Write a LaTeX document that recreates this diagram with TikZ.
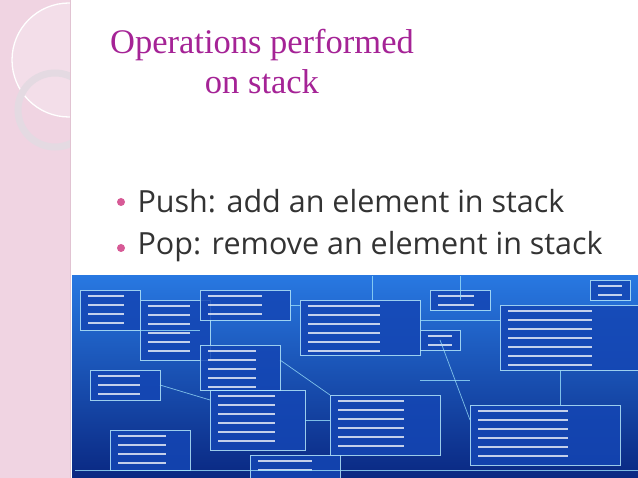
\documentclass[tikz,border=0pt]{standalone}
\usepackage{fontspec}
\setmainfont{Liberation Serif}
\setsansfont{Open Sans}
\definecolor{stripc}{RGB}{240,212,226}
\definecolor{ringc}{RGB}{228,218,226}
\definecolor{edgec}{RGB}{225,195,210}
\definecolor{titlec}{RGB}{165,35,150}
\definecolor{dotc}{RGB}{215,90,150}
\definecolor{tblc}{RGB}{20,70,180}
\definecolor{topc}{RGB}{40,120,225}
\definecolor{botc}{RGB}{10,40,130}
\begin{document}
\begin{tikzpicture}[x=1pt,y=-1pt,
  tbl/.style={draw=cyan!30!white,line width=0.9pt,fill=tblc,opacity=0.85},
  lnk/.style={draw=cyan!40!white,line width=0.7pt,opacity=0.8},
  bul/.style={font=\sffamily\fontsize{30.5}{34}\selectfont,text=black!80,anchor=west}]
\useasboundingbox (0,0) rectangle (638,478);
\fill[white] (0,0) rectangle (638,478);
% left strip
\fill[stripc] (0,0) rectangle (70,478);
\begin{scope}
\clip (0,0) rectangle (70,478);
\fill[white,opacity=0.25] (69,60) circle (57);
\draw[white,line width=1.3pt] (69,60) circle (57);
\draw[ringc,line width=7pt] (55,110) circle (37);
\end{scope}
\draw[edgec] (70,0) -- (70,478);
% title
\node[font=\fontsize{34.5}{40}\selectfont,text=titlec,align=center] (title) at (262,62) {Operations performed\\\hspace*{0pt}on stack};
% bullets
\node[bul] (b1) at (134,201) {Push: add an element in stack};
\node[bul] (b2) at (134,247) {Pop: remove an element in stack};
\fill[dotc] (121,202) circle (4);
\fill[dotc] (121,248) circle (4);
% photo
\shade[top color=topc,bottom color=botc] (72,276) rectangle (638,478);
\begin{scope}
\clip (72,276) rectangle (638,478);
\foreach \x/\y/\w/\h in {80/290/60/40, 140/300/70/60, 200/290/90/30, 300/300/120/55, 330/395/110/60, 210/390/95/60, 200/345/80/45, 90/370/70/30, 500/305/140/65, 470/405/150/60, 420/330/40/20, 430/290/60/20, 110/430/80/40, 250/455/90/30, 590/280/40/20}{
  \draw[tbl] (\x,\y) rectangle ++(\w,\h);
  \pgfmathsetmacro{\n}{int(\h/9)}
  \foreach \i in {1,...,\n}{\draw[white,opacity=0.75,line width=1.8pt] (\x+8,\y+\i*9-3) -- ++(\w*0.6,0);}
}
\foreach \a/\b/\c/\d in {140/330/200/330, 290/305/300/305, 420/320/500/320, 440/340/470/420, 305/420/330/420, 160/385/210/400, 280/360/330/395, 460/300/460/276, 372/276/372/300, 560/370/560/405, 75/470/640/470, 420/380/470/380}{
  \draw[lnk] (\a,\b) -- (\c,\d);
}
\end{scope}
\end{tikzpicture}
\end{document}
